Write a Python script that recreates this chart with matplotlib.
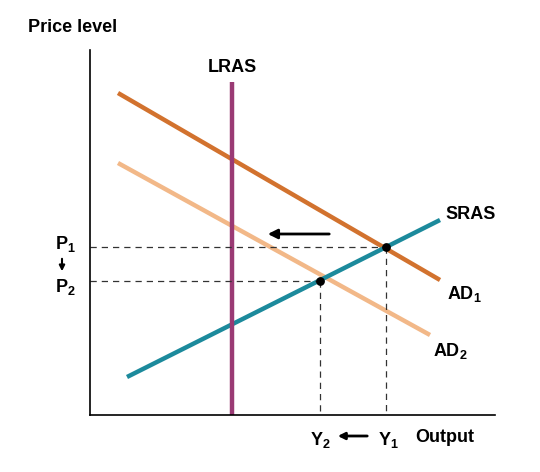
import matplotlib
matplotlib.use("Agg")
import matplotlib.pyplot as plt

# curve endpoints in chart units (pixel-like coordinates, y downward)
ad1_x = [118, 440]; ad1_y = [93, 280]
ad2_x = [118, 430]; ad2_y = [163, 335]
sras_x = [127, 440]; sras_y = [377, 220]
lras_x = [232, 232]; lras_y = [82, 415]
eq_x = [386, 320]; eq_y = [247, 281]
labels_p = ["P$_1$", "P$_2$"]
labels_y = ["Y$_1$", "Y$_2$"]

plt.rcParams["mathtext.fontset"] = "custom"
plt.rcParams["mathtext.rm"] = "Liberation Sans:bold"
plt.rcParams["mathtext.it"] = "Liberation Sans:bold"

fig = plt.figure(figsize=(5.4, 4.72), dpi=100)
ax = fig.add_axes([90/540, (472-415)/472, 405/540, 365/472])
ax.set_xlim(90, 495)
ax.set_ylim(415, 50)
for s in ["top", "right"]:
    ax.spines[s].set_visible(False)
ax.spines["left"].set_linewidth(1.2)
ax.spines["bottom"].set_linewidth(1.2)
ax.set_xticks([]); ax.set_yticks([])

ax.plot(ad2_x, ad2_y, color="#F2B888", lw=3.2, solid_capstyle="butt")
ax.plot(ad1_x, ad1_y, color="#D2722E", lw=3.2, solid_capstyle="butt")
ax.plot(sras_x, sras_y, color="#1C8A9C", lw=3.2, solid_capstyle="butt")
ax.plot(lras_x, lras_y, color="#9A3A74", lw=3.2, solid_capstyle="butt", clip_on=False)

for x, y in zip(eq_x, eq_y):
    ax.plot([90, x], [y, y], ls=(0, (5, 4)), color="#333333", lw=0.9)
    ax.plot([x, x], [y, 415], ls=(0, (5, 4)), color="#333333", lw=0.9)
ax.scatter(eq_x, eq_y, color="black", s=28, zorder=5)

ax.annotate("", xy=(265, 234), xytext=(332, 234),
            arrowprops=dict(arrowstyle="-|>", color="black", lw=2, mutation_scale=14))

fs = 13
kw = dict(fontsize=fs, fontweight="bold", family="Liberation Sans", clip_on=False)
ax.text(232, 68, "LRAS", ha="center", va="center", **kw)
ax.text(445, 215, "SRAS", ha="left", va="center", **kw)
ax.text(447, 294, "AD$_1$", ha="left", va="center", **kw)
ax.text(433, 351, "AD$_2$", ha="left", va="center", **kw)
ax.text(65, 244, labels_p[0], ha="center", va="center", **kw)
ax.text(65, 287, labels_p[1], ha="center", va="center", **kw)
ax.annotate("", xy=(62, 274), xytext=(62, 256), annotation_clip=False,
            arrowprops=dict(arrowstyle="-|>", color="black", lw=1.5, mutation_scale=8))
ax.text(388, 440, labels_y[0], ha="center", va="center", **kw)
ax.text(320, 440, labels_y[1], ha="center", va="center", **kw)
ax.annotate("", xy=(335, 436), xytext=(370, 436), annotation_clip=False,
            arrowprops=dict(arrowstyle="-|>", color="black", lw=2, mutation_scale=10))
ax.text(415, 438, "Output", ha="left", va="center", **kw)
fig.text(28/540, 1 - 28/472, "Price level", ha="left", va="center",
         fontsize=fs, fontweight="bold", family="Liberation Sans")

fig.savefig("out.png", dpi=100)
